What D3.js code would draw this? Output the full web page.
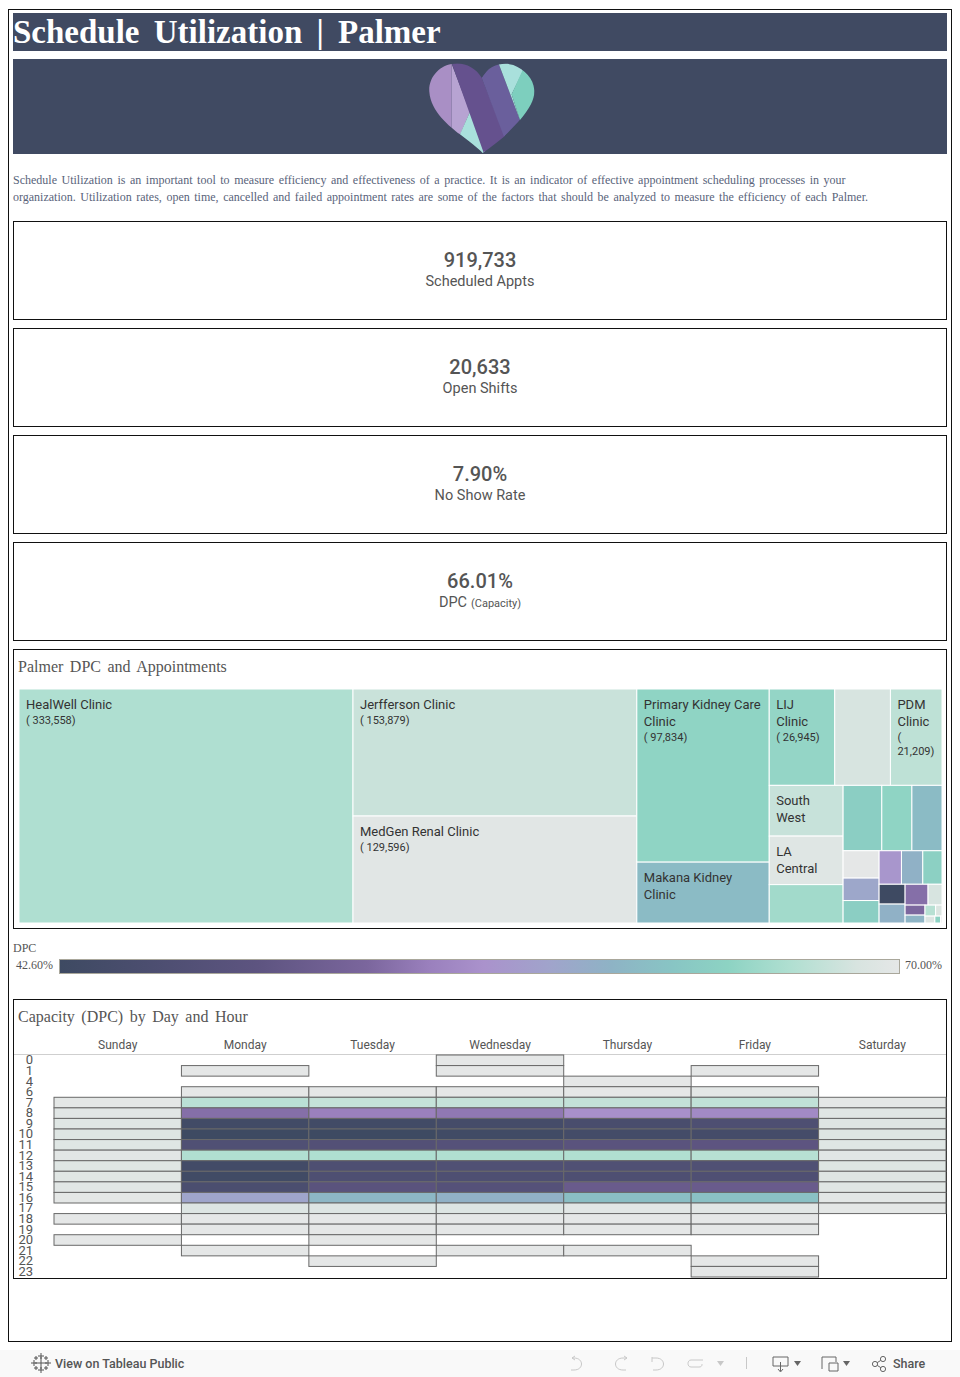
<!DOCTYPE html>
<html>
<head>
<meta charset="utf-8">
<title>Schedule Utilization | Palmer</title>
<script src="https://cdn.jsdelivr.net/npm/d3@7"></script>
<style>
  html, body { margin: 0; padding: 0; background: #fff; }
  svg { display: block; }
  .serif { font-family: "Liberation Serif", serif; }
  .sans { font-family: Roboto, sans-serif; }
</style>
</head>
<body>
<svg id="dash" width="960" height="1377"></svg>
<script>
// ---- Headline figures ----
const kpiValues = ["919,733", "20,633", "7.90%", "66.01%"];
const kpiLabels = ["Scheduled Appts", "Open Shifts", "No Show Rate", "DPC"];
const introLines = [
  "Schedule Utilization is an important tool to measure efficiency and effectiveness of a  practice. It is an indicator of effective appointment scheduling processes in your",
  "organization. Utilization rates, open time, cancelled and failed appointment rates are some of the factors that should be analyzed to measure the efficiency of each Palmer."
];

// ---- DPC colour ramp ----
const dpcMin = 42.6, dpcMax = 70;
const rampStops = [0, 0.11, 0.235, 0.366, 0.44, 0.505, 0.585, 0.657, 0.73, 0.796, 0.87, 0.95, 1];
const rampColors = ["#3e4a62", "#4c4e70", "#5d5480", "#7b669d", "#9a80bd", "#aa92cc", "#a0a4cb",
                    "#8eb3c5", "#88c5c4", "#8dd3c3", "#b0dfd1", "#d8e4e0", "#e5e7e7"];

// ---- Treemap: clinics ----
const clinicNames = ["HealWell Clinic", "Jerfferson Clinic", "MedGen Renal Clinic", "Primary Kidney Care Clinic",
  "Makana Kidney Clinic", "LIJ Clinic", "", "PDM Clinic", "South West", "LA Central", "",
  "", "", "", "", "", "", "", "", "", "", "", "", "", "", "", "", "", ""];
const clinicAppts = [333558, 153879, 129596, 97834, 34400, 26945, 22900, 21209, 16000, 15300, 12100,
  10800, 8400, 8400, 4200, 3450, 3450, 3200, 3050, 2750, 2200, 2100, 2040, 1240, 850, 670, 500, 300, 290, 170, 40];
const clinicDpc = [66.4, 67.8, 69.6, 64.5, 61.5, 64.8, 68.6, 67.2, 67.7, 69.4, 65.6,
  63.8, 64.5, 61.5, 70, 59, 63.7, 56.9, 60.4, 64, 42.7, 60.4, 53.3, 68.6, 52.7, 60.7, 66.8, 68.9, 69, 64.3, 69.9];
// Nesting of clinic indices; each level alternates between columns and rows.
const clinicNesting = [
  0, [1, 2], [3, 4],
  [[5, 6, 7],
   [[8, 9, 10],
    [[11, 12, 13],
     [[14, 15, 16],
      [[17, 18, 19],
       [[20, 21],
        [[22, 23],
         [[24, 25],
          [[26, 27], [28, 29, 30]]]]]]]]]]
];
// Wrapped text per labelled tile: clinic index, name lines, appointment lines.
const tileLabels = [
  [0, ["HealWell Clinic"], ["( 333,558)"]],
  [1, ["Jerfferson Clinic"], ["( 153,879)"]],
  [2, ["MedGen Renal Clinic"], ["( 129,596)"]],
  [3, ["Primary Kidney Care", "Clinic"], ["( 97,834)"]],
  [4, ["Makana Kidney", "Clinic"], []],
  [5, ["LIJ", "Clinic"], ["( 26,945)"]],
  [7, ["PDM", "Clinic"], ["(", "21,209)"]],
  [8, ["South", "West"], []],
  [9, ["LA", "Central"], []]
];

// ---- Heatmap: DPC by weekday and hour ----
const dayNames = ["Sunday", "Monday", "Tuesday", "Wednesday", "Thursday", "Friday", "Saturday"];
const hourLabels = [0, 1, 4, 6, 7, 8, 9, 10, 11, 12, 13, 14, 15, 16, 17, 18, 19, 20, 21, 22, 23];
const _ = null;
const dpcSunday    = [_, _, _, _, 69.9, 69.6, 69.4, 69.3, 69.4, 69.7, 69.4, 69.5, 69.6, 69.9, _, 70, _, 70, _, _, _];
const dpcMonday    = [_, 70, _, 70, 67, 53.3, 43.5, 42.6, 46.5, 66.5, 43.6, 43.2, 45.5, 58.7, 69.2, 70, 70, _, 70, _, _];
const dpcTuesday   = [_, _, _, 70, 67.6, 54.7, 43.5, 42.7, 47, 66.4, 46, 46, 48.5, 61, 69.2, 70, 70, 70, _, 70, _];
const dpcWednesday = [70, 70, _, 70, 67.6, 54, 44, 43.2, 47.5, 66.5, 46.5, 46, 47.5, 60.3, 69.2, 70, 70, _, 70, _, _];
const dpcThursday  = [_, _, 70, 70, 67.5, 56.2, 45, 43.8, 48.5, 66.5, 46.5, 46, 50.5, 61.8, 69.6, 70, 70, _, 70, _, _];
const dpcFriday    = [_, 70, _, 69.8, 67.3, 55.6, 46, 44.2, 49, 66.8, 46.5, 46.2, 50.5, 62, 69.6, 70, 70, _, _, 70, 70];
const dpcSaturday  = [_, _, _, _, 69.9, 69.5, 69.3, 69.3, 69.4, 69.6, 69.3, 69.3, 69.5, 69.8, 69.9, _, _, _, _, _, _];
const dpcByDay = [dpcSunday, dpcMonday, dpcTuesday, dpcWednesday, dpcThursday, dpcFriday, dpcSaturday];

// ---- Setup ----
const svg = d3.select("#dash");
const navy = "#404a62";
const textGrey = "#555555";
const colorScale = d3.scaleLinear()
  .domain(rampStops.map(t => dpcMin + t * (dpcMax - dpcMin)))
  .range(rampColors)
  .clamp(true);

function box(x, y, w, h) {
  svg.append("rect").attr("x", x + 0.5).attr("y", y + 0.5).attr("width", w).attr("height", h)
    .attr("fill", "none").attr("stroke", "#111").attr("stroke-width", 1);
}
function serifText(x, y, str, size, fill, wordSpacing) {
  return svg.append("text").attr("class", "serif").attr("x", x).attr("y", y)
    .attr("font-size", size).attr("fill", fill)
    .style("word-spacing", (wordSpacing || 0) + "px").text(str);
}

// Outer frame
box(8, 9, 943, 1332);

// ---- Title and banner ----
svg.append("rect").attr("x", 13).attr("y", 13).attr("width", 934).attr("height", 38).attr("fill", navy);
serifText(13, 43, "Schedule Utilization | Palmer", 33, "#fff", 6).attr("font-weight", 700);
svg.append("rect").attr("x", 13).attr("y", 59).attr("width", 934).attr("height", 95).attr("fill", navy);

// Heart emblem built from coloured stripes clipped to its outline
const heart = svg.append("g").attr("transform", "translate(400,55) scale(0.3333)");
svg.append("clipPath").attr("id", "heartClip").append("path")
  .attr("d", "M245,68 C225,35 190,20 155,27 C110,35 85,75 88,110 C92,170 150,215 180,238 C205,258 235,280 248,294 C290,265 340,225 360,195 C390,160 405,130 403,105 C400,70 375,45 340,30 C310,20 265,30 245,68 Z");
const stripes = heart.append("g").attr("clip-path", "url(#heartClip)");
[
  ["#a98fc5", "0,0 155,0 155,300 0,300"],
  ["#b7a3d2", "155,27 210,170 180,240 155,240"],
  ["#a9e0dc", "210,170 260,300 150,300 180,238"],
  ["#65518e", "150,10 250,10 245,68 315,245 250,300 250,290"],
  ["#6a5f9c", "245,68 290,10 360,195 312,245"],
  ["#a9e0dc", "290,10 370,10 368,50 335,118 360,195"],
  ["#7dcfbe", "368,45 420,45 420,250 360,195 335,118"]
].forEach(s => stripes.append("polygon").attr("points", s[1]).attr("fill", s[0]));

// ---- Introduction ----
introLines.forEach((line, i) => {
  serifText(13, 184 + i * 17, line, 12, "#59637a", i === 0 ? 1.55 : 1.55);
});

// ---- KPI cards ----
const cardY = d3.scalePoint().domain(d3.range(kpiValues.length)).range([221, 542]);
kpiValues.forEach((v, i) => {
  const y = cardY(i);
  box(13, y, 933, 98);
  svg.append("text").attr("class", "sans").attr("x", 480).attr("y", y + 46)
    .attr("text-anchor", "middle").attr("font-size", 20).attr("font-weight", 500)
    .attr("fill", textGrey).text(v);
  const label = svg.append("text").attr("class", "sans").attr("x", 480).attr("y", y + 65)
    .attr("text-anchor", "middle").attr("font-size", 14.5).attr("fill", textGrey).text(kpiLabels[i]);
  if (kpiLabels[i] === "DPC") {
    label.append("tspan").attr("font-size", 11).attr("dx", 4).text("(Capacity)");
  }
});

// ---- Treemap panel ----
box(13, 649, 933, 279);
serifText(18, 672, "Palmer DPC and Appointments", 16, textGrey, 2.5);

const treeRoot = d3.hierarchy(clinicNesting, d => Array.isArray(d) ? d : null)
  .sum(d => Array.isArray(d) ? 0 : clinicAppts[d]);
d3.treemap().size([923, 234]).tile(d3.treemapSliceDice)(treeRoot);

const treeG = svg.append("g").attr("transform", "translate(19,689)");
const leaves = treeRoot.leaves();
treeG.selectAll("rect").data(leaves).join("rect")
  .attr("x", d => d.x0).attr("y", d => d.y0)
  .attr("width", d => d.x1 - d.x0).attr("height", d => d.y1 - d.y0)
  .attr("fill", d => colorScale(clinicDpc[d.data]))
  .attr("stroke", "#fff").attr("stroke-width", 1)
  .append("title").text(d => clinicNames[d.data] || "");

tileLabels.forEach(([idx, nameLines, valueLines]) => {
  const leaf = leaves.find(l => l.data === idx);
  const x = leaf.x0 + 7;
  let y = leaf.y0 + 20;
  nameLines.forEach(line => {
    treeG.append("text").attr("class", "sans").attr("x", x).attr("y", y)
      .attr("font-size", 13).attr("fill", "#333").text(line);
    y += 17;
  });
  y -= 2;
  valueLines.forEach(line => {
    treeG.append("text").attr("class", "sans").attr("x", x).attr("y", y)
      .attr("font-size", 11).attr("fill", "#333").text(line);
    y += 14;
  });
});

// ---- DPC colour legend ----
serifText(13, 952, "DPC", 12, textGrey);
const gradient = svg.append("defs").append("linearGradient").attr("id", "dpcRamp");
rampStops.forEach((t, i) => gradient.append("stop").attr("offset", t).attr("stop-color", rampColors[i]));
svg.append("rect").attr("x", 59.5).attr("y", 959.5).attr("width", 840).attr("height", 14)
  .attr("fill", "url(#dpcRamp)").attr("stroke", "#a9a79b").attr("stroke-width", 1);
serifText(53, 969, d3.format(".2f")(dpcMin) + "%", 12, textGrey).attr("text-anchor", "end");
serifText(905, 969, d3.format(".2f")(dpcMax) + "%", 12, textGrey);

// ---- Heatmap panel ----
box(13, 999, 933, 279);
serifText(18, 1022, "Capacity (DPC) by Day and Hour", 16, textGrey, 2.5);

const xDay = d3.scaleBand().domain(dayNames).range([54, 946]);
const yHour = d3.scaleBand().domain(hourLabels).range([1055, 1277]);

const cells = dayNames.flatMap((day, i) =>
  hourLabels.map((hour, j) => ({ day, hour, dpc: dpcByDay[i][j] })).filter(c => c.dpc !== null));

svg.append("line").attr("x1", 14).attr("x2", 946).attr("y1", 1054.5).attr("y2", 1054.5).attr("stroke", "#cfcfcf");
svg.append("g").selectAll("rect").data(cells).join("rect")
  .attr("x", d => xDay(d.day)).attr("y", d => yHour(d.hour))
  .attr("width", xDay.bandwidth()).attr("height", yHour.bandwidth())
  .attr("fill", d => colorScale(d.dpc))
  .attr("stroke", "#696969").attr("stroke-width", 1);

const dayAxis = svg.append("g").attr("transform", "translate(0,1049)")
  .call(d3.axisTop(xDay).tickSize(0).tickPadding(0));
dayAxis.select(".domain").remove();
dayAxis.selectAll("text").attr("font-family", "Roboto, sans-serif").attr("font-size", 12).attr("fill", textGrey).attr("dy", 0);

const hourAxis = svg.append("g").attr("transform", "translate(33,0)")
  .call(d3.axisLeft(yHour).tickSize(0).tickPadding(0));
hourAxis.select(".domain").remove();
hourAxis.selectAll("text").attr("font-family", "Roboto, sans-serif").attr("font-size", 13).attr("fill", textGrey);

// ---- Viewer toolbar ----
svg.append("rect").attr("x", 0).attr("y", 1350).attr("width", 960).attr("height", 27).attr("fill", "#f9f9f9");
svg.append("text").attr("class", "sans").attr("x", 55).attr("y", 1368).attr("font-size", 12.5)
  .attr("font-weight", 500).attr("fill", "#555").text("View on Tableau Public");
svg.append("text").attr("class", "sans").attr("x", 893).attr("y", 1368).attr("font-size", 12.5)
  .attr("font-weight", 500).attr("fill", "#555").text("Share");

const icons = svg.append("g").attr("fill", "none").attr("stroke-width", 1);
// Tableau mark: a cluster of small crosses
[[41,1363,6],[41,1356,3],[41,1370,3],[34,1363,3],[48,1363,3],[36,1358,2],[46,1358,2],[36,1368,2],[46,1368,2]].forEach(([x,y,r]) => {
  icons.append("path").attr("d", `M${x-r},${y}H${x+r}M${x},${y-r}V${y+r}`).attr("stroke", "#555");
});
// Disabled history buttons
const faint = "#c8c8c8", dark = "#666";
icons.append("path").attr("d", "M572,1358h2c10,0 10,12 0,12h-3M572,1358l3,-2M572,1358l3,2").attr("stroke", faint);
icons.append("path").attr("d", "M627,1358h-4c-10,0 -10,12 0,12h3M627,1358l-3,-2M627,1358l-3,2").attr("stroke", faint);
icons.append("path").attr("d", "M652,1357v5M652,1358h4c10,0 10,12 0,12h-3").attr("stroke", faint);
icons.append("path").attr("d", "M703,1360h-12c-4,0 -4,7 0,7h8c3,0 3,-2 3,-3").attr("stroke", faint);
icons.append("path").attr("d", "M717,1361h7l-3.5,5z").attr("fill", faint);
icons.append("path").attr("d", "M746.5,1357v12").attr("stroke", faint);
// Download, device preview and share
icons.append("path").attr("d", "M773,1357h15v9h-15zM780.5,1362v9M778,1369l2.5,3l2.5,-3").attr("stroke", dark);
icons.append("path").attr("d", "M794,1361h7l-3.5,5z").attr("fill", dark);
icons.append("path").attr("d", "M822,1369v-12h14v5M829,1363h9v8h-9z").attr("stroke", dark);
icons.append("path").attr("d", "M843,1361h7l-3.5,5z").attr("fill", dark);
icons.append("path").attr("d", "M875,1364l8,-5M875,1364l8,5").attr("stroke", dark);
[[875,1364],[883,1359],[883,1369]].forEach(([x,y]) => {
  icons.append("circle").attr("cx", x).attr("cy", y).attr("r", 2.6).attr("stroke", dark).attr("fill", "#f9f9f9");
});
</script>
</body>
</html>
